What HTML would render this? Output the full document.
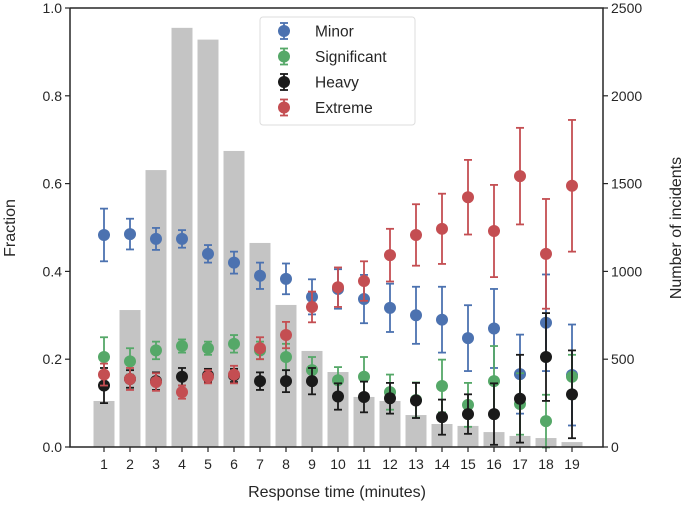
<!DOCTYPE html>
<html><head><meta charset="utf-8"><style>
body{margin:0;background:#fff;}
svg{font-family:"Liberation Sans","DejaVu Sans",sans-serif;}
</style></head><body>
<svg id="chart" width="685" height="509" xmlns="http://www.w3.org/2000/svg">
<g id="bars"></g>
<g id="series"></g>
<g id="axes"></g>
<g>
<rect x="260" y="17" width="155" height="108" rx="3" fill="#fff" fill-opacity="0.85" stroke="#ddd"/>
<g id="legend-items"></g>
</g>
</svg>
<script>
const minutes=[1,2,3,4,5,6,7,8,9,10,11,12,13,14,15,16,17,18,19];
const counts=[262,780,1577,2387,2320,1686,1162,809,547,427,285,262,182,131,120,85,63,51,28];
const minorVals=[0.483,0.485,0.474,0.474,0.44,0.42,0.39,0.383,0.342,0.36,0.337,0.317,0.30,0.29,0.248,0.27,0.166,0.283,0.164];
const minorErr=[0.06,0.035,0.025,0.02,0.02,0.025,0.03,0.035,0.04,0.045,0.055,0.055,0.065,0.075,0.075,0.09,0.09,0.11,0.115];
const sigVals=[0.205,0.195,0.22,0.23,0.225,0.235,0.22,0.205,0.175,0.152,0.16,0.125,0.107,0.139,0.096,0.15,0.098,0.059,0.16];
const sigErr=[0.045,0.03,0.02,0.015,0.015,0.02,0.02,0.03,0.03,0.03,0.045,0.04,0.04,0.06,0.05,0.08,0.07,0.06,0.05];
const heavyVals=[0.14,0.155,0.15,0.16,0.163,0.163,0.15,0.15,0.15,0.115,0.114,0.111,0.106,0.068,0.075,0.075,0.11,0.205,0.12];
const heavyErr=[0.04,0.02,0.02,0.02,0.015,0.015,0.02,0.025,0.03,0.03,0.035,0.035,0.04,0.04,0.045,0.07,0.1,0.1,0.1];
const extVals=[0.165,0.155,0.148,0.125,0.16,0.165,0.225,0.255,0.319,0.364,0.378,0.437,0.483,0.497,0.569,0.492,0.617,0.44,0.595];
const extErr=[0.025,0.025,0.02,0.015,0.015,0.02,0.025,0.03,0.035,0.045,0.045,0.06,0.07,0.08,0.085,0.105,0.11,0.125,0.15];
const yTicks=[0,0.2,0.4,0.6,0.8,1.0];
const y2Ticks=[0,500,1000,1500,2000,2500];
const seriesNames=["Minor","Significant","Heavy","Extreme"];
const colors=["#4c72b0","#55a868","#1a1a1a","#c44e52"];

const NS="http://www.w3.org/2000/svg";
const L=70,R=603,T=8,B=447;
const x=m=>104+(m-1)*26;
const y=v=>B-v*(B-T);
const y2=c=>B-c/2500*(B-T);
function mk(tag,attrs,parent){const e=document.createElementNS(NS,tag);for(const k in attrs)e.setAttribute(k,attrs[k]);parent.appendChild(e);return e;}
const bars=document.getElementById('bars');
minutes.forEach((m,i)=>{const r=mk('rect',{x:x(m)-10.5,y:y2(counts[i]),width:21,height:B-y2(counts[i]),fill:'#c4c4c4'},bars);

});
const ser=document.getElementById('series');
const all=[[minorVals,minorErr],[sigVals,sigErr],[heavyVals,heavyErr],[extVals,extErr]];
all.forEach((s,si)=>{const g=mk('g',{},ser);


minutes.forEach((m,i)=>{const cx=x(m),v=s[0][i],e=s[1][i];
const c=colors[si];
mk('line',{x1:cx,x2:cx,y1:y(v-e),y2:y(v+e),stroke:c,'stroke-width':1.8},g);
mk('line',{x1:cx-4,x2:cx+4,y1:y(v-e),y2:y(v-e),stroke:c,'stroke-width':1.8},g);
mk('line',{x1:cx-4,x2:cx+4,y1:y(v+e),y2:y(v+e),stroke:c,'stroke-width':1.8},g);
const p=mk('circle',{cx:cx,cy:y(v),r:6,fill:c},g);

});});
const ax=document.getElementById('axes');
mk('path',{d:`M${L},${T}V${B}H${R}V${T}H${L}`,fill:'none',stroke:'#262626','stroke-width':1.5},ax);
yTicks.forEach(t=>{mk('line',{x1:L-5,x2:L,y1:y(t),y2:y(t),stroke:'#262626','stroke-width':1.2},ax);
const tx=mk('text',{x:L-8,y:y(t)+5,'text-anchor':'end','font-size':14,fill:'#262626'},ax);tx.textContent=t.toFixed(1);

});
y2Ticks.forEach(t=>{mk('line',{x1:R,x2:R+5,y1:y2(t),y2:y2(t),stroke:'#262626','stroke-width':1.2},ax);
const tx=mk('text',{x:R+8,y:y2(t)+5,'font-size':14,fill:'#262626'},ax);tx.textContent=t;

});
minutes.forEach(m=>{mk('line',{x1:x(m),x2:x(m),y1:B,y2:B+5,stroke:'#262626','stroke-width':1.2},ax);
const tx=mk('text',{x:x(m),y:B+22,'text-anchor':'middle','font-size':14,fill:'#262626'},ax);tx.textContent=m;

});
let t=mk('text',{x:337,y:497,'text-anchor':'middle','font-size':16,fill:'#262626'},ax);t.textContent='Response time (minutes)';


t=mk('text',{x:15,y:228,'text-anchor':'middle','font-size':16,fill:'#262626',transform:'rotate(-90 15 228)'},ax);t.textContent='Fraction';


t=mk('text',{x:681,y:228,'text-anchor':'middle','font-size':16,fill:'#262626',transform:'rotate(-90 681 228)'},ax);t.textContent='Number of incidents';


const li=document.getElementById('legend-items');
seriesNames.forEach((n,i)=>{const yy=31+i*25.5;const g=mk('g',{},li);


mk('line',{x1:284,x2:284,y1:yy-8,y2:yy+8,stroke:colors[i],'stroke-width':1.8},g);
mk('line',{x1:280,x2:288,y1:yy-8,y2:yy-8,stroke:colors[i],'stroke-width':1.8},g);
mk('line',{x1:280,x2:288,y1:yy+8,y2:yy+8,stroke:colors[i],'stroke-width':1.8},g);
mk('circle',{cx:284,cy:yy,r:6,fill:colors[i]},g);
const tx=mk('text',{x:315,y:yy+5.5,'font-size':15.5,fill:'#262626'},g);tx.textContent=n;});
</script>
</body></html>
